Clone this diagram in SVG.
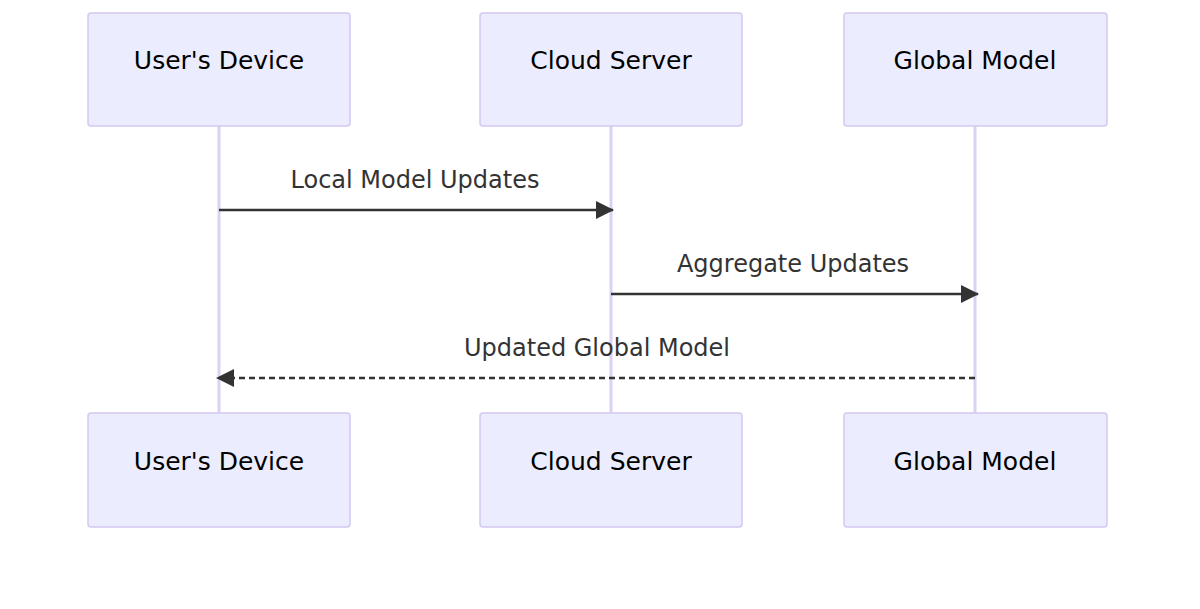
<svg xmlns="http://www.w3.org/2000/svg" width="1200" height="609" viewBox="0 0 1200 609">
<style>
.actor{fill:#ECECFF;stroke:#D4C8F2;stroke-width:1.5}
.at{font-family:"DejaVu Sans",sans-serif;font-size:25px;fill:#000;text-anchor:middle;dominant-baseline:central}
.life{stroke:#DCD0F5;stroke-width:3}
.msg{stroke:#333;stroke-width:2.5;fill:none}
.ml{font-family:"DejaVu Sans",sans-serif;font-size:24px;fill:#333;text-anchor:middle}
</style>
<defs>
<marker id="ah" markerWidth="12" markerHeight="12" refX="11" refY="6" orient="auto" markerUnits="userSpaceOnUse" viewBox="0 0 12 12">
<path d="M0,0 L12,6 L0,12 z" fill="#333"/>
</marker>
<marker id="ah2" markerWidth="18" markerHeight="18" refX="17" refY="9" orient="auto" markerUnits="userSpaceOnUse" viewBox="0 0 18 18">
<path d="M0,0 L18,9 L0,18 z" fill="#333"/>
</marker>
</defs>
<rect width="1200" height="609" fill="#fff"/>
<g id="lifelines">
<line class="life" x1="219" y1="126" x2="219" y2="413"/>
<line class="life" x1="611" y1="126" x2="611" y2="413"/>
<line class="life" x1="975" y1="126" x2="975" y2="413"/>
</g>
<g id="device-top"><rect class="actor" x="88" y="13" width="262" height="113" rx="3"/><text class="at" x="219" y="60">User's Device</text></g>
<g id="server-top"><rect class="actor" x="480" y="13" width="262" height="113" rx="3"/><text class="at" x="611" y="60">Cloud Server</text></g>
<g id="global-top"><rect class="actor" x="844" y="13" width="263" height="113" rx="3"/><text class="at" x="975" y="60">Global Model</text></g>
<g id="device-bottom"><rect class="actor" x="88" y="413" width="262" height="114" rx="3"/><text class="at" x="219" y="461">User's Device</text></g>
<g id="server-bottom"><rect class="actor" x="480" y="413" width="262" height="114" rx="3"/><text class="at" x="611" y="461">Cloud Server</text></g>
<g id="global-bottom"><rect class="actor" x="844" y="413" width="263" height="114" rx="3"/><text class="at" x="975" y="461">Global Model</text></g>
<g id="connectors">
<line class="msg" x1="219" y1="210" x2="613" y2="210" marker-end="url(#ah2)"/>
<text class="ml" x="415" y="188">Local Model Updates</text>
<line class="msg" x1="611" y1="294" x2="978" y2="294" marker-end="url(#ah2)"/>
<text class="ml" x="793" y="272">Aggregate Updates</text>
<line class="msg" x1="975" y1="378" x2="217" y2="378" stroke-dasharray="6,4" marker-end="url(#ah2)"/>
<text class="ml" x="597" y="356">Updated Global Model</text>
</g>
</svg>
